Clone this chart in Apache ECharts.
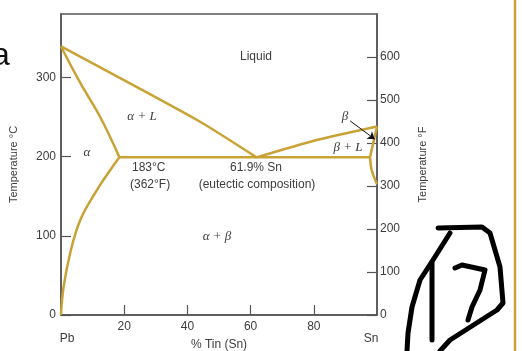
<!DOCTYPE html>
<html>
<head>
<meta charset="utf-8">
<script src="https://cdn.jsdelivr.net/npm/echarts@6/dist/echarts.min.js"></script>
<style>
  html, body { margin: 0; padding: 0; background: #fff; }
  #phaseChart { width: 522px; height: 351px; }
</style>
</head>
<body>
<div id="phaseChart"></div>
<script>
// composition in % Sn, temperature in °C
const liquidusLeft = [[0, 339], [44, 244], [61.9, 199]];
const solidusAlpha = [[0, 339], [6.1, 293], [12.4, 250], [18.5, 199]];
const solvusAlpha = [[18.5, 199], [15.6, 183], [11.4, 158], [6.1, 120], [2.9, 78], [0.8, 35], [0, 0]];
const eutecticLine = [[18.5, 199], [97.8, 199]];
const liquidusRight = [[61.9, 199], [80, 220], [100, 238]];
const solidusBeta = [[100, 238], [98.8, 217], [97.8, 199]];
const solvusBeta = [[97.8, 199], [98.3, 183], [100, 165]];
const xTicks = [20, 40, 60, 80];
const celsiusTicks = [0, 100, 200, 300];
const fahrenheitTicks = [0, 100, 200, 300, 400, 500, 600];

const gold = '#c9a236';
const axisGrey = '#555';
const textGrey = '#3c3c3c';
const sans = "'Liberation Sans'";
const serif = "'Liberation Serif'";

function phaseLine(name, data, smooth) {
  return {
    name: name,
    type: 'line',
    data: data,
    xAxisIndex: 0,
    yAxisIndex: 0,
    showSymbol: false,
    smooth: smooth || false,
    lineStyle: { color: gold, width: 2.5 },
    silent: true,
    animation: false,
  };
}

function label(text, x, y, opts) {
  return {
    type: 'text',
    x: x,
    y: y,
    style: Object.assign({
      text: text,
      fill: textGrey,
      font: '12px ' + sans,
      align: 'center',
      verticalAlign: 'middle',
    }, opts || {}),
  };
}

const chart = echarts.init(document.getElementById('phaseChart'));

const series = [
  phaseLine('liquidusLeft', liquidusLeft, 0.2),
  phaseLine('solidusAlpha', solidusAlpha, 0.4),
  phaseLine('solvusAlpha', solvusAlpha, 0.4),
  phaseLine('eutectic', eutecticLine),
  phaseLine('liquidusRight', liquidusRight, 0.2),
  phaseLine('solidusBeta', solidusBeta, 0.3),
  phaseLine('solvusBeta', solvusBeta, 0.3),
];
// beta arrow
series[6].markLine = {
  silent: true,
  symbol: ['none', 'arrow'],
  symbolSize: 7,
  label: { show: false },
  lineStyle: { color: '#111', width: 1, type: 'solid' },
  data: [[{ coord: [91.5, 245] }, { coord: [99.3, 222] }]],
};

const option = {
  backgroundColor: '#fff',
  animation: false,
  grid: {
    left: 61,
    top: 14,
    width: 316,
    height: 301,
    show: true,
    borderColor: axisGrey,
    borderWidth: 1.5,
    outerBoundsMode: 'none',
  },
  xAxis: {
    type: 'value',
    min: 0,
    max: 100,
    interval: 20,
    name: '% Tin (Sn)',
    nameLocation: 'middle',
    nameGap: 24,
    nameTextStyle: { color: textGrey, fontSize: 12, fontFamily: 'Liberation Sans' },
    axisLine: { show: true, lineStyle: { color: axisGrey, width: 1.5 } },
    axisTick: { show: true, inside: true, length: 10, customValues: xTicks, lineStyle: { color: axisGrey, width: 1.2 } },
    axisLabel: { customValues: xTicks, color: textGrey, fontSize: 12, fontFamily: 'Liberation Sans', margin: 6 },
    splitLine: { show: false },
  },
  yAxis: [
    {
      type: 'value',
      min: 0,
      max: 380,
      interval: 100,
      position: 'left',
      name: 'Temperature °C',
      nameLocation: 'middle',
      nameRotate: 90,
      nameGap: 42,
      nameTextStyle: { color: textGrey, fontSize: 11, fontFamily: 'Liberation Sans' },
      axisLine: { show: true, lineStyle: { color: axisGrey, width: 1.5 } },
      axisTick: { show: true, inside: true, length: 10, customValues: celsiusTicks, lineStyle: { color: axisGrey, width: 1.2 } },
      axisLabel: { customValues: celsiusTicks, color: textGrey, fontSize: 12, fontFamily: 'Liberation Sans', margin: 5 },
      splitLine: { show: false },
    },
    {
      type: 'value',
      min: 0,
      max: 700,
      interval: 100,
      position: 'right',
      name: 'Temperature °F',
      nameLocation: 'middle',
      nameRotate: 90,
      nameGap: 40,
      nameTextStyle: { color: textGrey, fontSize: 11, fontFamily: 'Liberation Sans' },
      axisLine: { show: true, lineStyle: { color: axisGrey, width: 1.5 } },
      axisTick: { show: true, inside: true, length: 10, customValues: fahrenheitTicks, lineStyle: { color: axisGrey, width: 1.2 } },
      axisLabel: { customValues: fahrenheitTicks, color: textGrey, fontSize: 12, fontFamily: 'Liberation Sans', margin: 3 },
      splitLine: { show: false },
    },
  ],
  series: series,
  graphic: [
    label('Liquid', 256, 57),
    label('α + L', 142, 117, { font: 'italic 13px ' + serif }),
    label('α', 87, 153, { font: 'italic 13px ' + serif }),
    label('183°C', 132, 168, { align: 'left' }),
    label('(362°F)', 130, 185, { align: 'left' }),
    label('61.9% Sn', 256, 168),
    label('(eutectic composition)', 257, 185),
    label('α + β', 217, 237, { font: 'italic 13px ' + serif }),
    label('β', 345, 117, { font: 'italic 13px ' + serif }),
    label('β + L', 348, 148, { font: 'italic 13px ' + serif }),
    label('Pb', 67, 339),
    label('Sn', 371, 339),
    label('a', -8, 56, { font: '32px ' + sans, fill: '#111', align: 'left' }),
    {
      type: 'line',
      shape: { x1: 515, y1: 0, x2: 515, y2: 351 },
      style: { stroke: '#c9a236', lineWidth: 2.5 },
    },
    // handwritten doodle
    {
      type: 'polyline',
      shape: { points: [[438, 228], [482, 227], [490, 233], [500, 267], [503, 303], [497, 310], [450, 340], [440, 351]] },
      style: { stroke: '#000', lineWidth: 5, fill: null, lineJoin: 'round', lineCap: 'round' },
    },
    {
      type: 'polyline',
      shape: { points: [[450, 233], [433, 260], [420, 280], [412, 307], [408, 333], [407, 351]] },
      style: { stroke: '#000', lineWidth: 5, fill: null, lineJoin: 'round', lineCap: 'round' },
    },
    {
      type: 'polyline',
      shape: { points: [[432, 263], [432, 340]] },
      style: { stroke: '#000', lineWidth: 5, fill: null, lineCap: 'round' },
    },
    {
      type: 'polyline',
      shape: { points: [[455, 268], [462, 265], [485, 270], [480, 290], [472, 307], [468, 320]] },
      style: { stroke: '#000', lineWidth: 5, fill: null, lineJoin: 'round', lineCap: 'round' },
    },
  ],
};

chart.setOption(option);
window.addEventListener('resize', () => {
  chart.resize();
});
</script>
</body>
</html>
